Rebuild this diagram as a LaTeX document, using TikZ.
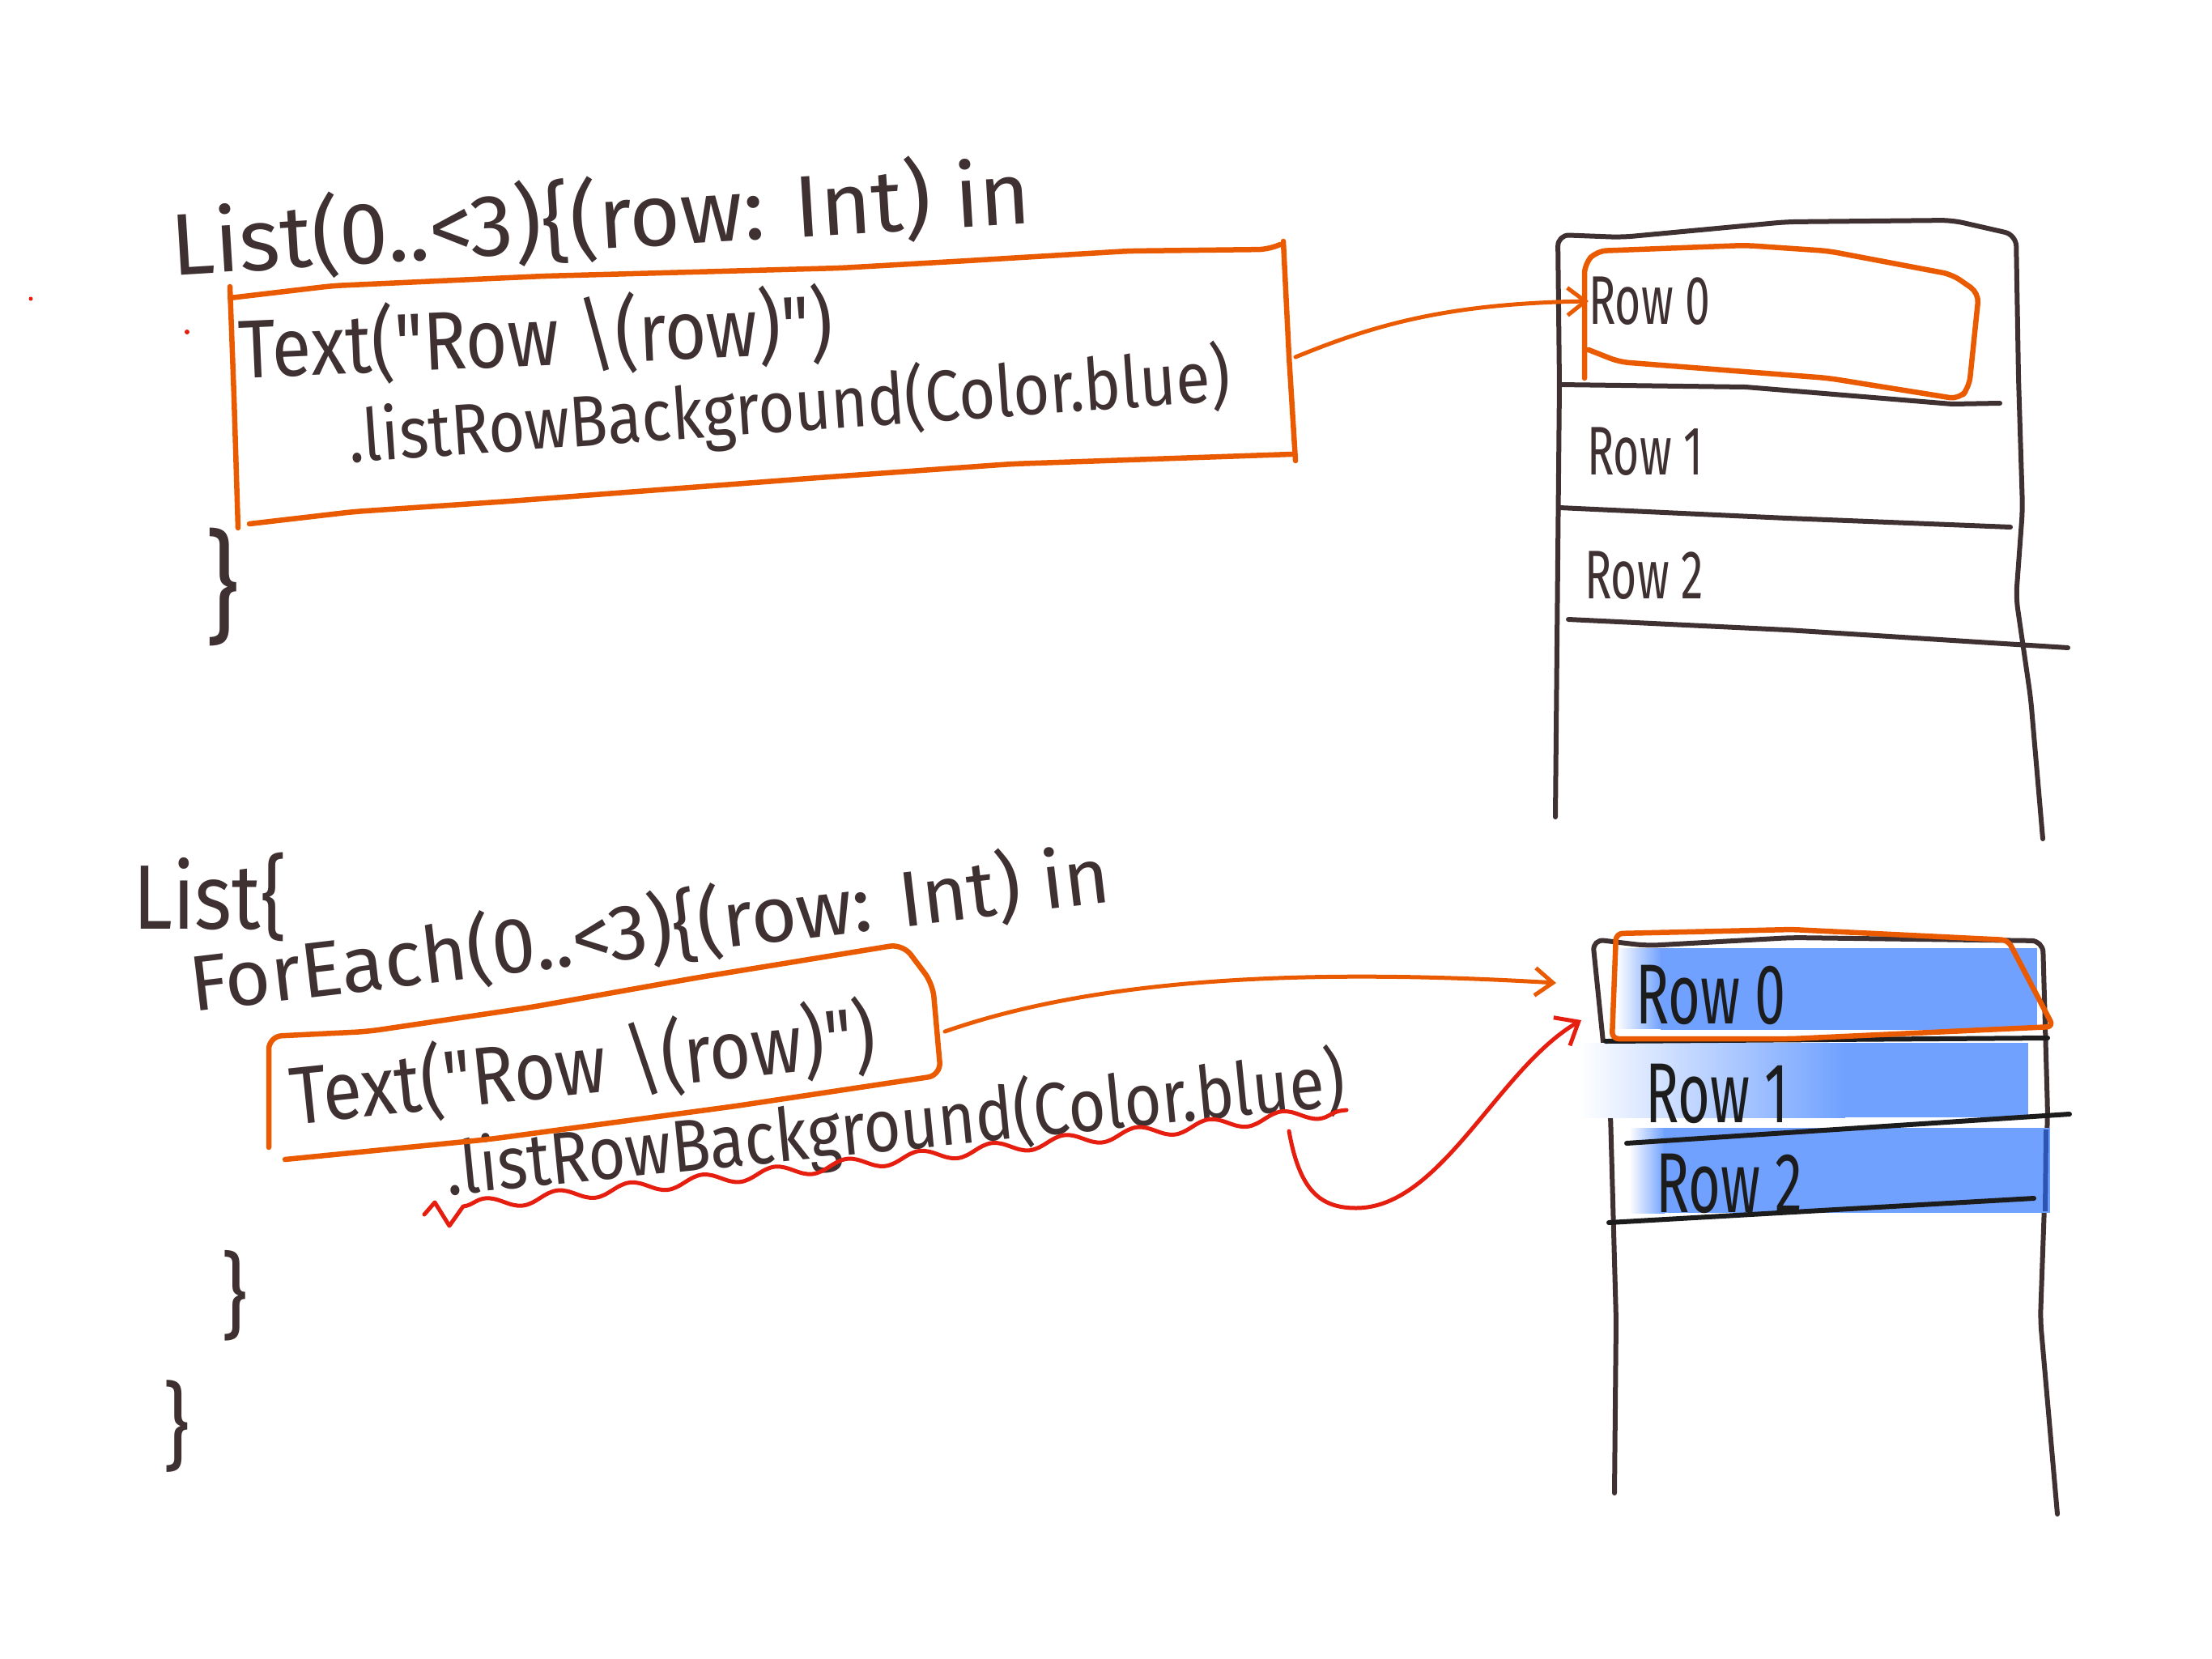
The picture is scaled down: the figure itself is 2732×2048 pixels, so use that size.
\documentclass[tikz,border=0pt]{standalone}
\usepackage{fontspec}
\newfontfamily\handfont[FakeStretch=0.87]{Fira Sans}
\newfontfamily\handwidefont[FakeStretch=1.0]{Fira Sans}
\newfontfamily\rowfont[FakeStretch=0.65]{Fira Sans}
\usetikzlibrary{arrows.meta,decorations.pathmorphing}
\definecolor{inkbrown}{HTML}{3F3131}
\definecolor{inkblack}{HTML}{1C1C1C}
\definecolor{inkorange}{HTML}{EA5A00}
\definecolor{inkred}{HTML}{E51E0F}
\definecolor{inkblue}{HTML}{70A1FF}
\definecolor{inkdeepblue}{HTML}{2C55B2}

\begin{document}
\begin{tikzpicture}[x=1pt,y=-1pt]
	\tikzstyle{frame_line} = [draw=inkbrown, line width=6pt, line cap=round, line join=round, rounded corners=14pt]
	\tikzstyle{row_line} = [draw=inkbrown, line width=6pt, line cap=round, line join=round]
	\tikzstyle{mark_box} = [draw=inkorange, line width=6.5pt, line cap=round, line join=round, rounded corners=12pt]
	\tikzstyle{mark_arrow} = [draw=inkorange, line width=5pt, line cap=round, -{Straight Barb[length=22pt,width=34pt]}]
	\tikzstyle{hint_arrow} = [draw=inkred, line width=5pt, line cap=round, -{Straight Barb[length=24pt,width=40pt]}]
	\tikzstyle{squiggle_line} = [draw=inkred, line width=5pt, line cap=round, line join=round]
	\tikzset{code_style/.style={text=inkbrown, inner sep=0pt, font=\handfont\fontsize{#1}{#1}\selectfont}}
	\tikzset{wide_code_style/.style={text=inkbrown, inner sep=0pt, font=\handwidefont\fontsize{#1}{#1}\selectfont}}
	\tikzset{row_style/.style={text=#1, inner sep=0pt, anchor=west}}
	\useasboundingbox (0,0) rectangle (2732,2048);
	\fill[white] (0,0) rectangle (2732,2048);

	% first version: List over a range
	\node[wide_code_style=108, rotate=3.5] (listhead) at (742,270) {List(0..<3)\{(row: Int) in};
	\node[code_style=102, rotate=2.5] (textcall) at (662,416) {Text("Row \textbackslash(row)")};
	\node[code_style=89, rotate=4] (rowbg) at (975,505) {.listRowBackground(Color.blue)};
	\node[code_style=150] (closebrace) at (275,725) {\}};
	\fill[inkred] (231,410) circle (3);
	\fill[inkred] (38,369) circle (2.5);

	\draw[mark_box, rounded corners=6pt] (284,354) -- (289,490) -- (294,652);
	\draw[mark_box] (284,368) -- (411,353) -- (672,341) -- (1038,331) -- (1195,322) -- (1394,310) -- (1566,308) -- (1581,302);
	\draw[mark_box, rounded corners=6pt] (1585,298) -- (1592,440) -- (1600,569);
	\draw[mark_box] (1595,561) -- (1250,573) -- (1011,590) -- (629,619) -- (437,632) -- (308,647);
	\coordinate (boxa_out) at (1600,441);

	% first list
	\draw[frame_line] (1921,1009) -- (1926,475) -- (1924,290) -- (2003,293) -- (2207,274) -- (2411,272) -- (2490,290) -- (2493,467) -- (2498,629) -- (2490,738) -- (2508,862) -- (2523,1036);
	\draw[row_line] (1926,475) -- (2156,478) -- (2411,499) -- (2470,498);
	\draw[row_line] (1926,627) -- (2207,640) -- (2483,651);
	\draw[row_line] (1937,765) -- (2207,778) -- (2554,800);
	\node[row_style=inkbrown, font=\rowfont\fontsize{85}{85}\selectfont] (rowa0) at (1962,372) {Row 0};
	\node[row_style=inkbrown, font=\rowfont\fontsize{85}{85}\selectfont] (rowa1) at (1960,558) {Row 1};
	\node[row_style=inkbrown, font=\rowfont\fontsize{85}{85}\selectfont] (rowa2) at (1957,711) {Row 2};
	\draw[mark_box] (1962,432) -- (2000,447) -- (2258,467) -- (2420,493) -- (2432,478) -- (2444,362) -- (2411,339) -- (2258,310) -- (2156,303) -- (1972,310) -- (1957,326) -- (1957,467);

	\draw[mark_arrow] (boxa_out) .. controls (1700,400) and (1790,375) .. (rowa0.west);

	% second version: ForEach inside List
	\node[code_style=113] (listopen) at (259,1108) {List\{};
	\node[wide_code_style=97, rotate=6.8] (foreach) at (802,1148) {ForEach(0..<3)\{(row: Int) in};
	\node[code_style=101, rotate=6] (textcall2) at (720,1316) {Text("Row \textbackslash(row)")};
	\node[code_style=91, rotate=5.7] (rowbg2) at (1106,1392) {.listRowBackground(Color.blue)};
	\node[code_style=115] (innerbrace) at (290,1600) {\}};
	\node[code_style=117] (outerbrace) at (218,1762) {\}};

	\draw[mark_box, rounded corners=16pt] (332,1417) -- (332,1280) -- (454,1274) -- (656,1244) -- (858,1208) -- (1115,1166) -- (1152,1215) -- (1162,1328) -- (909,1366) -- (605,1407) -- (352,1432);
	\coordinate (boxb_out) at (1167,1274);
	\draw[squiggle_line] (524,1500) -- (537,1485) -- (555,1514) -- (572,1490) decorate[decoration={snake,amplitude=7pt,segment length=90pt}] { -- (1663,1371)};
	\coordinate (bg_mark) at (1592,1397);

	% second list, rows filled blue
	\draw[frame_line] (1994,1844) -- (1996,1630) -- (1989,1375) -- (1967,1160) -- (2034,1168) -- (2213,1158) -- (2523,1162) -- (2529,1375) -- (2520,1630) -- (2541,1870);
	\shade[left color=white, right color=inkblue] (1996,1171) rectangle (2052,1270);
	\fill[inkblue] (2051,1171) rectangle (2516,1272);
	\shade[left color=white, right color=inkblue] (1949,1288) rectangle (2279,1380);
	\fill[inkblue] (2278,1288) rectangle (2505,1380);
	\shade[left color=white, right color=inkblue] (2012,1393) rectangle (2056,1498);
	\fill[inkblue] (2055,1393) rectangle (2532,1498);
	\draw[line width=6pt, inkdeepblue] (2527,1395) -- (2526,1496);
	\draw[row_line, draw=inkblack] (1983,1286) -- (2529,1282);
	\draw[row_line, draw=inkblack] (2009,1412) -- (2556,1376);
	\draw[row_line, draw=inkblack] (1987,1510) -- (2512,1480);
	\node[row_style=inkblack, font=\rowfont\fontsize{105}{105}\selectfont] (rowb0) at (2020,1229) {Row 0};
	\node[row_style=inkblack, font=\rowfont\fontsize{105}{105}\selectfont] (rowb1) at (2032,1351) {Row 1};
	\node[row_style=inkblack, font=\rowfont\fontsize{105}{105}\selectfont] (rowb2) at (2045,1462) {Row 2};
	\draw[mark_box, rounded corners=8pt] (1991,1283) -- (1996,1153) -- (2213,1148) -- (2480,1161) -- (2536,1268) -- (2213,1283) -- cycle;

	\coordinate (tip_orange) at (1922,1214);
	\coordinate (tip_red) at (1953,1260);
	\draw[mark_arrow] (boxb_out) .. controls (1350,1210) and (1600,1195) .. (tip_orange);
	\draw[hint_arrow] (bg_mark) .. controls (1605,1470) and (1630,1492) .. (1675,1492) .. controls (1780,1492) and (1850,1320) .. (tip_red);
\end{tikzpicture}
\end{document}
